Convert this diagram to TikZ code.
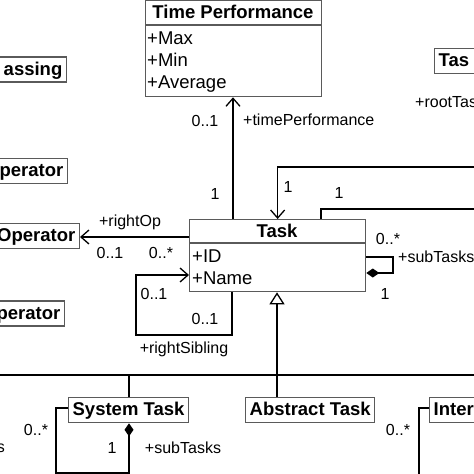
\documentclass[tikz,border=0pt]{standalone}
\usepackage{fontspec}
\setmainfont{Liberation Sans}
\usetikzlibrary{arrows.meta}
\definecolor{boxgray}{HTML}{5A5A5A}
\begin{document}
\begin{tikzpicture}[x=1pt,y=-1pt,
 frame/.style={draw=boxgray, line width=1.3pt, fill=white, inner sep=0pt},
 frameline/.style={draw=boxgray, line width=1.3pt},
 box/.style={draw=boxgray, line width=1.3pt, fill=white, font=\fontsize{18.5}{20}\selectfont\bfseries, text height=15pt, text depth=4pt, inner ysep=3pt, inner xsep=4pt},
 title/.style={font=\fontsize{18.5}{20}\selectfont\bfseries, inner sep=0pt, anchor=base},
 attr/.style={font=\fontsize{18.5}{20}\selectfont, inner sep=0pt, anchor=base west},
 lbl/.style={font=\fontsize{16}{18}\selectfont, inner sep=0pt},
 conn/.style={line width=1.3pt, draw=black},
 openarrow/.style={-{Straight Barb[length=8pt,width=14pt]}},
 diamondstart/.style={{Diamond[length=13pt,width=9pt]}-},
]
\useasboundingbox (0,0) rectangle (474,474);
\clip (0,0) rectangle (474,474);

% Time Performance class
\node[frame, minimum width=176pt, minimum height=96pt, anchor=north west] (tp) at (145,0) {};
\draw[frameline] (145,25) -- (321,25);
\node[title] (tptitle) at (233,18) {Time Performance};
\node[attr] (tpmax) at (147,44) {+Max};
\node[attr] (tpmin) at (147,66) {+Min};
\node[attr] (tpavg) at (147,88) {+Average};

% Task class
\node[frame, minimum width=176pt, minimum height=72pt, anchor=north west] (task) at (189,219) {};
\draw[frameline] (189,243) -- (365,243);
\node[title] (tasktitle) at (277,237) {Task};
\node[attr] (taskid) at (192,262) {+ID};
\node[attr] (taskname) at (192,284) {+Name};

% partial boxes on the left
\node[box, text width=100pt, align=right, anchor=east] (mp) at (67,69.5) {assing};
\node[box, text width=100pt, align=right, anchor=east] (op1) at (68,171) {perator};
\node[box, text width=100pt, align=right, anchor=east] (op) at (80,236) {Operator};
\node[box, text width=100pt, align=right, anchor=east] (op2) at (65,313.5) {perator};

% partial box top right
\node[box, text width=60pt, align=left, anchor=north west] (tas) at (434,48) {Tas};

% bottom classes
\node[box, anchor=north west] (sys) at (68,397) {System Task};
\node[box, anchor=north west] (abs) at (245,397) {Abstract Task};
\node[box, text width=60pt, align=left, anchor=north west] (inter) at (429,397) {Inter};

% free ends
\coordinate (r1) at (474,167);
\coordinate (r2) at (474,209);
\coordinate (gl) at (0,375);
\coordinate (gr) at (474,375);
\coordinate (ib) at (419,480);

% Task -> Time Performance
\draw[conn, openarrow] (233,0 |- task.north) -- (233,0 |- tp.south);
\node[lbl] at (205,121) {0..1};
\node[lbl, anchor=west] at (243,120) {+timePerformance};
\node[lbl] at (215,194) {1};

% associations from the right
\draw[conn, openarrow] (r1) -| (task.north);
\draw[conn] (321,0 |- task.north) |- (r2);
\node[lbl] at (288,187) {1};
\node[lbl] at (339,193) {1};
\node[lbl, anchor=west] at (415,102) {+rootTas};

% subTasks self loop
\draw[conn, diamondstart] (task.east |- 0,273) -- (393,273) -- (393,257) -- (task.east |- 0,257);
\node[lbl] at (388,239) {0..*};
\node[lbl, anchor=west] at (398,257) {+subTasks};
\node[lbl] at (385,294) {1};

% rightOp
\draw[conn, openarrow] (task.west |- 0,237) -- (op.east |- 0,237);
\node[lbl] at (130,222) {+rightOp};
\node[lbl] at (110,253) {0..1};
\node[lbl] at (161,253) {0..*};

% rightSibling
\draw[conn, openarrow] (232,0 |- task.south) -- (232,335) -- (136,335) -- (136,275) -- (task.west |- 0,275);
\node[lbl] at (154,294) {0..1};
\node[lbl] at (205,319) {0..1};
\node[lbl] at (184,349) {+rightSibling};

% generalization
\draw[conn] (gl) -- (gr);
\draw[conn, -{Triangle[open, length=12pt, width=15pt]}] (277,0 |- abs.north) -- (277,0 |- task.south);
\draw[conn] (129,0 |- sys.north) -- (129,375);

% System Task loop
\draw[conn, diamondstart] (sys.south -| 129,0) -- (129,473) -- (56,473) -- (56,408) -- (sys.west |- 0,408);
\node[lbl] at (36,430) {0..*};
\node[lbl] at (112,448) {1};
\node[lbl] at (183,448) {+subTasks};
\node[lbl, anchor=east] at (5,448) {s};

% Inter loop
\draw[conn] (inter.west |- 0,408) -- (419,408) -- (ib);
\node[lbl] at (398,430) {0..*};
\end{tikzpicture}
\end{document}
